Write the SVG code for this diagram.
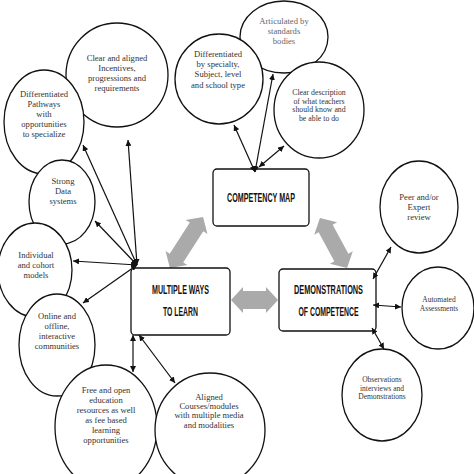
<svg xmlns="http://www.w3.org/2000/svg" width="474" height="474" viewBox="0 0 474 474">
<defs>
<style>
.n ellipse{fill:#fff;stroke:#111;stroke-width:1.3}
.n text{font-family:"Liberation Serif","Times New Roman",serif;font-size:8.6px;fill:#333;text-anchor:middle}
.b rect{fill:#fff;stroke:#111;stroke-width:1.3}
.b text{font-family:"Liberation Sans",Arial,sans-serif;font-weight:bold;font-size:12.5px;fill:#111;text-anchor:middle}
.c line{stroke:#111;stroke-width:1.2;marker-start:url(#ah);marker-end:url(#ah)}
.g{fill:#aaa}
</style>
<marker id="ah" viewBox="0 0 10 10" refX="10" refY="5" markerWidth="6" markerHeight="6" markerUnits="userSpaceOnUse" orient="auto-start-reverse">
<path d="M0,0 L10,5 L0,10 z" fill="#111"/>
</marker>
</defs>
<rect width="474" height="474" fill="#fff"/>

<g id="big-arrows">
<polygon class="g" transform="translate(186.5,242.5) rotate(-57.1)" points="-30.5,0 -18.5,-13 -18.5,-8 18.5,-8 18.5,-13 30.5,0 18.5,13 18.5,8 -18.5,8 -18.5,13"/>
<polygon class="g" transform="translate(333.5,243) rotate(61.6)" points="-28.5,0 -16.5,-13 -16.5,-8 16.5,-8 16.5,-13 28.5,0 16.5,13 16.5,8 -16.5,8 -16.5,13"/>
<polygon class="g" transform="translate(254.5,300)" points="-23.5,0 -11.5,-13 -11.5,-9 11.5,-9 11.5,-13 23.5,0 11.5,13 11.5,9 -11.5,9 -11.5,13"/>
</g>

<g id="n-articulated" class="n"><ellipse cx="284" cy="37" rx="44" ry="36"/>
<text x="284" y="24" style="fill:#666">Articulated by</text><text x="284" y="34" style="fill:#666">standards</text><text x="284" y="44" style="fill:#666">bodies</text></g>

<g id="n-diffspec" class="n"><ellipse cx="219" cy="79" rx="44" ry="45"/>
<text x="218" y="57">Differentiated</text><text x="218" y="67">by specialty,</text><text x="218" y="77">Subject, level</text><text x="218" y="88">and school type</text></g>

<g id="n-cleardesc" class="n"><ellipse cx="319" cy="110" rx="45" ry="48"/>
<text x="319" y="95" style="font-size:7.8px">Clear description</text><text x="319" y="104" style="font-size:7.8px">of what teachers</text><text x="319" y="112" style="font-size:7.8px">should know and</text><text x="319" y="121" style="font-size:7.8px">be able to do</text></g>

<g id="n-clearaligned" class="n"><ellipse cx="117" cy="75" rx="51" ry="52"/>
<text x="117" y="61">Clear and aligned</text><text x="117" y="71">Incentives,</text><text x="117" y="81">progressions and</text><text x="117" y="91">requirements</text></g>

<g id="n-pathways" class="n"><ellipse cx="44" cy="122" rx="40" ry="52"/>
<text x="44" y="97">Differentiated</text><text x="44" y="107">Pathways</text><text x="44" y="117">with</text><text x="44" y="127">opportunities</text><text x="44" y="137">to specialize</text></g>

<g id="n-data" class="n"><ellipse cx="62" cy="202" rx="33" ry="42"/>
<text x="63" y="184">Strong</text><text x="63" y="194">Data</text><text x="63" y="204">systems</text></g>

<g id="n-individual" class="n"><ellipse cx="35" cy="270" rx="37" ry="47"/>
<text x="36" y="258">Individual</text><text x="36" y="268">and cohort</text><text x="36" y="278">models</text></g>

<g id="n-online" class="n"><ellipse cx="57" cy="345" rx="38" ry="51"/>
<text x="57" y="319">Online and</text><text x="57" y="329">offline,</text><text x="57" y="339">interactive</text><text x="57" y="349">communities</text></g>

<g id="n-free" class="n"><ellipse cx="106" cy="427" rx="51" ry="62"/>
<text x="106" y="393">Free and open</text><text x="106" y="403">education</text><text x="106" y="413">resources as well</text><text x="106" y="423">as fee based</text><text x="106" y="433">learning</text><text x="106" y="443">opportunities</text></g>

<g id="n-aligned" class="n"><ellipse cx="210" cy="430" rx="55" ry="57"/>
<text x="209" y="400">Aligned</text><text x="209" y="409">Courses/modules</text><text x="209" y="418">with multiple media</text><text x="209" y="428">and modalities</text></g>

<g id="n-peer" class="n"><ellipse cx="419" cy="207" rx="39" ry="46"/>
<text x="419" y="200">Peer and/or</text><text x="419" y="210">Expert</text><text x="419" y="220">review</text></g>

<g id="n-automated" class="n"><ellipse cx="438" cy="308" rx="36" ry="41"/>
<text x="439" y="302" style="font-size:7.5px">Automated</text><text x="439" y="311" style="font-size:7.5px">Assessments</text></g>

<g id="n-observations" class="n"><ellipse cx="382" cy="395" rx="40" ry="46"/>
<text x="382" y="382" style="font-size:7.5px">Observations</text><text x="382" y="391" style="font-size:7.5px">interviews and</text><text x="382" y="399" style="font-size:7.5px">Demonstrations</text></g>

<g id="b-competency" class="b"><rect x="213" y="169" width="96" height="57" rx="4"/>
<text x="261" y="202" textLength="68" lengthAdjust="spacingAndGlyphs">COMPETENCY MAP</text></g>

<g id="b-multiple" class="b"><rect x="131" y="268" width="99" height="67" rx="4"/>
<text x="180.5" y="294" textLength="57" lengthAdjust="spacingAndGlyphs">MULTIPLE WAYS</text>
<text x="180.5" y="316" textLength="35" lengthAdjust="spacingAndGlyphs">TO LEARN</text></g>

<g id="b-demonstrations" class="b"><rect x="279" y="269" width="97" height="62" rx="4"/>
<text x="328.5" y="294" textLength="69" lengthAdjust="spacingAndGlyphs">DEMONSTRATIONS</text>
<text x="328.5" y="316" textLength="60" lengthAdjust="spacingAndGlyphs">OF COMPETENCE</text></g>

<g id="connectors" class="c">
<line x1="137" y1="265" x2="128" y2="140"/>
<line x1="137" y1="265" x2="83" y2="145"/>
<line x1="137" y1="265" x2="95" y2="221"/>
<line x1="137" y1="265" x2="73" y2="261"/>
<line x1="137" y1="265" x2="83" y2="303"/>
<line x1="133" y1="335" x2="133" y2="372"/>
<line x1="139" y1="335" x2="175" y2="383"/>
<line x1="255" y1="172" x2="234" y2="125"/>
<line x1="255" y1="172" x2="273" y2="74"/>
<line x1="259" y1="167" x2="284" y2="146"/>
<line x1="373" y1="279" x2="391" y2="247"/>
<line x1="373" y1="305" x2="401" y2="307"/>
<line x1="372" y1="328" x2="384" y2="349"/>
</g>
</svg>
